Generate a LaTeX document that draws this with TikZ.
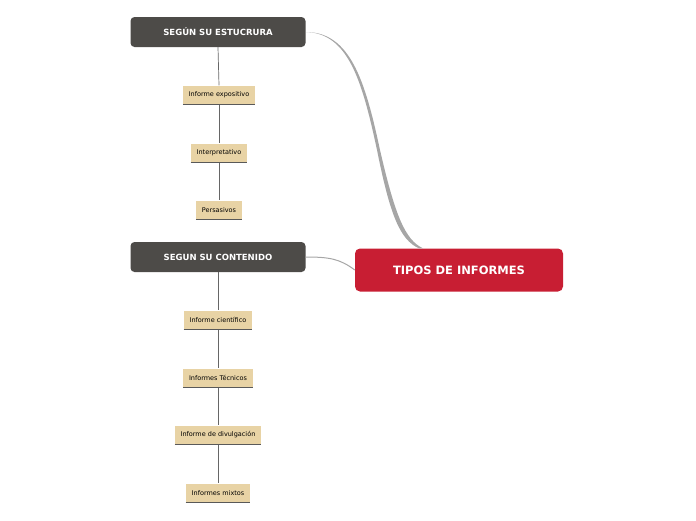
\documentclass[tikz,border=0pt]{standalone}
\usepackage{fontspec}
\setmainfont{DejaVu Sans}
\definecolor{dark}{HTML}{4D4B48}
\definecolor{tan}{HTML}{E8D3A5}
\definecolor{red1}{HTML}{C81E33}
\begin{document}
\begin{tikzpicture}[x=1pt,y=-1pt,
 mainbox/.style={fill=red1,rounded corners=5pt,minimum width=208pt,minimum height=43pt,text=white,font=\bfseries\fontsize{11.5}{13}\selectfont},
 darkbox/.style={fill=dark,rounded corners=4pt,minimum width=175pt,minimum height=30pt,text=white,font=\bfseries\fontsize{8.5}{10}\selectfont,drop shadow={opacity=0.3}},
 leaf/.style={fill=tan,minimum height=19pt,inner xsep=6pt,font=\fontsize{6.5}{8}\selectfont,path picture={\draw[gray!70!black,line width=0.8pt] (path picture bounding box.south west)--(path picture bounding box.south east);}},
 conn/.style={draw=gray!80!black,line width=0.7pt}]
\useasboundingbox (0,0) rectangle (696,520);
\node[mainbox] (m) at (459,270) {TIPOS DE INFORMES};
\node[fill=dark,rounded corners=4pt,minimum width=175pt,minimum height=30pt,text=white,font=\bfseries\fontsize{8.5}{10}\selectfont] (a) at (218,32) {SEGÚN SU ESTUCRURA};
\node[fill=dark,rounded corners=4pt,minimum width=175pt,minimum height=30pt,text=white,font=\bfseries\fontsize{8.5}{10}\selectfont] (b) at (218,257) {SEGUN SU CONTENIDO};
\node[leaf] (a1) at (219,95) {Informe expositivo};
\node[leaf] (a2) at (219,153) {Interpretativo};
\node[leaf] (a3) at (219,210) {Persasivos};
\node[leaf] (b1) at (218,320) {Informe científico};
\node[leaf] (b2) at (218,378) {Informes Técnicos};
\node[leaf] (b3) at (218,435) {Informe de divulgación};
\node[leaf] (b4) at (218,493) {Informes mixtos};
\fill[gray!70] (a.east) .. controls (350,32) and (365,80) .. (380,150) .. controls (395,215) and (405,240) .. ([xshift=-36pt]m.north) -- ([xshift=-40pt]m.north) .. controls (400,240) and (390,215) .. (377,150) .. controls (362,80) and (348,33) .. (a.east) -- cycle;
\draw[gray!70,line width=1pt] (b.east) .. controls (330,257) and (340,259) .. (m.west);
\foreach \u/\v in {a/a1,a1/a2,a2/a3,b/b1,b1/b2,b2/b3,b3/b4}
 \draw[conn] (\u.south) -- (\v.north);
\end{tikzpicture}
\end{document}
